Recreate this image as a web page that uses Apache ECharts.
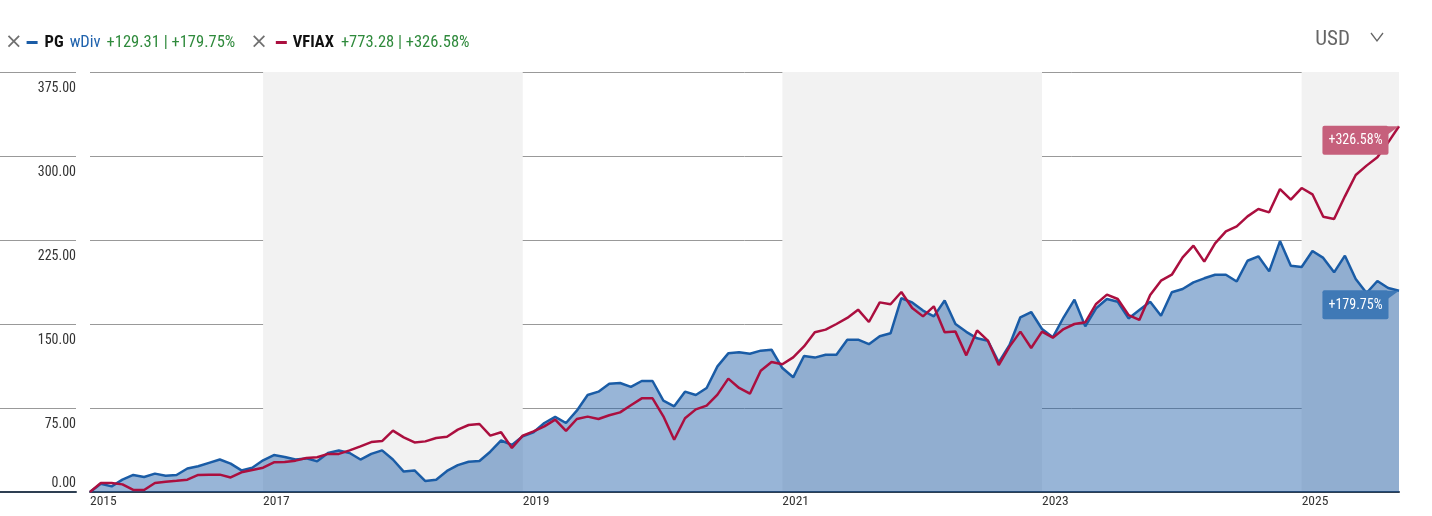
<!DOCTYPE html>
<html><head><meta charset="utf-8">
<script src="https://cdn.jsdelivr.net/npm/echarts@6/dist/echarts.min.js"></script>
<style>html,body{margin:0;padding:0;background:#fff}#c{width:1432px;height:516px}</style>
</head><body><div id="c"></div>
<script>
const FONT = "'Roboto Condensed', Roboto, sans-serif";
// monthly categories Sep 2015 .. Oct 2025
const months = [];
for (let y = 2015; y <= 2025; y++) {
  for (let m = 1; m <= 12; m++) {
    if (y === 2015 && m < 9) continue;
    if (y === 2025 && m > 10) continue;
    months.push(y + '-' + String(m).padStart(2, '0'));
  }
}
const pgValues = [
  0, 7.4, 5, 11, 15.2, 13.4, 16.4, 14.6, 15.2, 21, 23, 26, 29, 25.3, 19.3, 21.7, 28.3, 33, 31.3, 29,
  30, 27.4, 34.8, 37, 34.8, 29, 34, 37.2, 29, 18.2, 19.3, 9.8, 11, 18.8, 24, 27, 27.7, 36, 46, 42, 49.7,
  53.3, 61.6, 67, 61.6, 72.6, 86.6, 89.6, 96.7, 97.3, 93.8, 99.1, 99.1, 81.5, 76.5, 89.6, 86.6, 92.9, 112.2, 123.8, 124.7,
  123.5, 126.2, 127, 110.7, 102.4, 121.4, 120, 122.6, 122.6, 136, 136, 132, 139, 141.7, 173, 169.3, 162, 156.8, 171, 150, 143,
  137.2, 135.1, 115.8, 131.3, 156, 160.7, 145.5, 138.1, 156, 171.7, 147.9, 164, 172.3, 169.9, 155, 162.5, 169.9, 157.4, 178.3, 181.3,
  187.2, 190.8, 194, 194, 188, 206.5, 210.4, 197, 224, 202, 200.9, 215.2, 209, 196.1, 211, 190.2, 177.7, 188.4, 182.1, 179.75
];
const vfiaxValues = [
  0, 8, 8, 6.8, 1.8, 1.8, 8, 9.2, 10, 11, 15.2, 15.5, 15.5, 13, 17.6, 19.6, 21.7, 26.5, 26.8, 28,
  30.4, 31, 34, 34, 37.2, 40.8, 44.6, 45.5, 54.8, 48.8, 44.3, 45.2, 48.2, 49.4, 55.7, 59.8, 60.7, 50.3, 53.3, 39.3, 50.3,
  54.2, 58.6, 64.6, 54.5, 65.2, 67.3, 65.2, 68.5, 71.1, 77.4, 83.6, 83.6, 67.6, 46.7, 65.8, 73.8, 77.1, 86.9, 101.2, 92.9,
  87.8, 108.3, 116, 114, 120.2, 130, 142.6, 145, 150, 155.4, 162.8, 151.8, 169.3, 167.6, 178.6, 164.3, 156.8, 165.8, 142.6, 143.2, 122,
  144.3, 135.1, 113.4, 129.8, 143.2, 128.6, 143.2, 137.8, 145.5, 150, 151.5, 167.9, 176.2, 172.3, 158, 153.6, 175.9, 188.7, 194, 209.5,
  219.9, 205.7, 222, 232.7, 237.2, 246.1, 252.7, 249.7, 270.5, 261, 271.4, 265.8, 245.8, 243.8, 264, 283, 291.4, 298.8, 312.2, 326.58
];
const yTicks = [0, 75, 150, 225, 300, 375];
const shadedBands = [['2017-01', '2019-01'], ['2021-01', '2023-01'], ['2025-01', '2025-10']];
const pgLegend = { name: 'PG', tag: 'wDiv', change: '+129.31', pct: '+179.75%' };
const vfLegend = { name: 'VFIAX', change: '+773.28', pct: '+326.58%' };
const currency = 'USD';

const BLUE = '#1a5ca6', RED = '#ab0f3f';
const last = months[months.length - 1];

function endMark(val, text, bg) {
  return {
    silent: true,
    animation: false,
    data: [
      { coord: [last, val], symbol: 'circle', symbolSize: 1, itemStyle: { color: 'rgba(0,0,0,0)' },
        label: { show: true, position: [-10, 0], align: 'right', verticalAlign: 'top', formatter: text,
          color: '#fff', backgroundColor: bg, padding: [8, 6, 7, 6], borderRadius: 2,
          fontSize: 14, fontFamily: FONT } },
      { coord: [last, val], symbol: 'path://M10,0 L0,0 L0,8 Z', symbolSize: [11, 8], symbolOffset: [-5.5, 4],
        symbolKeepAspect: false, itemStyle: { color: bg }, label: { show: false } }
    ]
  };
}

const XFONT = "'DejaVu Sans', sans-serif";
const chart = echarts.init(document.getElementById('c'), null, { renderer: 'canvas' });
chart.setOption({
  animation: false,
  backgroundColor: '#fff',
  title: [{
    left: 0, top: 27,
    text: '{x|×}{bl| }{b|' + pgLegend.name + '}{wd|' + pgLegend.tag + '}{g|' + pgLegend.change + ' | ' + pgLegend.pct + '}' +
          '{x2|×}{rd| }{b2|' + vfLegend.name + '}{g|' + vfLegend.change + ' | ' + vfLegend.pct + '}',
    textStyle: {
      fontFamily: FONT, fontWeight: 'normal',
      rich: {
        x: { fontSize: 21, color: '#707070', fontWeight: 'normal', fontFamily: XFONT, padding: [0, 4, 0, 0] },
        x2: { fontSize: 21, color: '#707070', fontWeight: 'normal', fontFamily: XFONT, padding: [0, 8, 0, 15] },
        bl: { width: 11, height: 3, backgroundColor: BLUE },
        rd: { width: 11, height: 3, backgroundColor: RED },
        b: { fontSize: 16.5, fontWeight: 'bold', color: '#111', fontFamily: FONT, padding: [0, 6, 0, 7] },
        b2: { fontSize: 16.5, fontWeight: 'bold', color: '#111', fontFamily: FONT, padding: [0, 7, 0, 6] },
        wd: { fontSize: 16.5, fontWeight: 'normal', color: '#1f62ad', fontFamily: FONT, padding: [0, 6, 0, 0] },
        g: { fontSize: 16.5, fontWeight: 'normal', color: '#2f8a3c', fontFamily: FONT }
      }
    }
  }, {
    right: 77, top: 24,
    text: currency,
    textStyle: { fontFamily: FONT, fontSize: 21, fontWeight: 'normal', color: '#666' }
  }],
  graphic: [{
    type: 'polyline', shape: { points: [[1371, 33], [1377, 41], [1383, 33]] },
    style: { stroke: '#666', lineWidth: 1.3, fill: null }
  }],
  grid: [
    { left: 90, right: 33, top: 72, bottom: 24 },
    { left: 0, width: 76, top: 72, bottom: 24 }
  ],
  xAxis: [{
    type: 'category', data: months, boundaryGap: false, gridIndex: 0, z: 1,
    axisLine: { lineStyle: { color: '#2e3f52', width: 2 } },
    axisTick: { show: false },
    splitLine: { show: false },
    axisLabel: {
      interval: (i, v) => i === 0 || (v.endsWith('-01') && (+v.slice(0, 4)) % 2 === 1),
      formatter: v => v.slice(0, 4),
      align: 'left', margin: 3, fontSize: 13.5, color: '#333', fontFamily: FONT
    }
  }, {
    type: 'value', gridIndex: 1, min: 0, max: 1, z: 1,
    axisLine: { show: true, lineStyle: { color: '#2e3f52', width: 2 } },
    axisTick: { show: false }, axisLabel: { show: false }, splitLine: { show: false }
  }],
  yAxis: [{
    type: 'value', gridIndex: 0, min: yTicks[0], max: yTicks[yTicks.length - 1], interval: 75, z: 1,
    axisLine: { show: false }, axisTick: { show: false },
    splitLine: { lineStyle: { color: '#999', width: 1 } },
    axisLabel: {
      margin: 14, fontSize: 14, color: '#333', fontFamily: FONT, verticalAlign: 'middle',
      formatter: v => v === 0 ? '{z|' + v.toFixed(2) + '}' : '{a|' + v.toFixed(2) + '}',
      rich: {
        a: { fontSize: 14, color: '#333', fontFamily: FONT, padding: [32, 0, 0, 0] },
        z: { fontSize: 14, color: '#333', fontFamily: FONT, padding: [0, 0, 18, 0] }
      }
    }
  }, {
    type: 'value', gridIndex: 1, min: yTicks[0], max: yTicks[yTicks.length - 1], interval: 75, z: 1,
    axisLine: { show: false }, axisTick: { show: false }, axisLabel: { show: false },
    splitLine: { lineStyle: { color: '#999', width: 1 } }
  }],
  series: [{
    type: 'line', name: 'bands', data: [], z: 0, silent: true,
    markArea: {
      silent: true,
      itemStyle: { color: '#f2f2f2' },
      data: shadedBands.map(b => [{ xAxis: b[0] }, { xAxis: b[1] }])
    }
  }, {
    type: 'line', name: 'PG', data: pgValues, z: 3, symbol: 'none',
    lineStyle: { color: BLUE, width: 2.5 },
    itemStyle: { color: BLUE },
    areaStyle: { color: 'rgba(26,92,166,0.45)', opacity: 1, origin: 'start' },
    markPoint: endMark(pgValues[pgValues.length - 1], pgLegend.pct, '#3f79b6')
  }, {
    type: 'line', name: 'VFIAX', data: vfiaxValues, z: 4, symbol: 'none',
    lineStyle: { color: RED, width: 2.5 },
    itemStyle: { color: RED },
    markPoint: endMark(vfiaxValues[vfiaxValues.length - 1], vfLegend.pct, '#c6607c')
  }]
});
</script>
</body></html>
